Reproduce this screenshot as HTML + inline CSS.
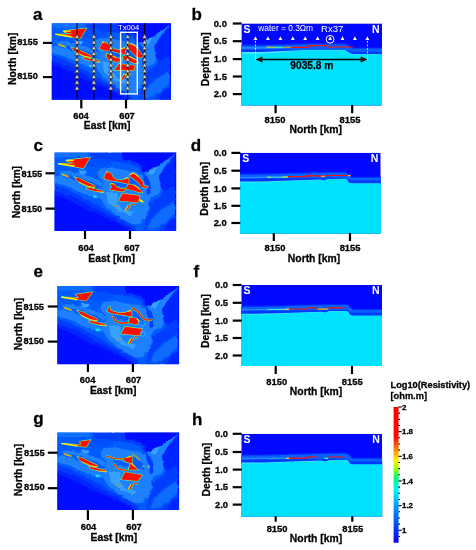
<!DOCTYPE html>
<html><head><meta charset="utf-8"><title>Resistivity inversion figure</title>
<style>html,body{margin:0;padding:0;background:#fff}body{width:476px;height:550px;overflow:hidden}svg{display:block}text{font-family:"Liberation Sans",sans-serif}.k text{stroke:#000;stroke-width:0.28px;paint-order:stroke}.k svg text{stroke:none}</style></head><body>
<svg class="k" width="476" height="550" viewBox="0 0 476 550">
<rect width="476" height="550" fill="#fff"/>
<defs><filter id="bl" x="-5%" y="-5%" width="110%" height="110%"><feGaussianBlur stdDeviation="0.35"/></filter><filter id="jag" x="-3%" y="-3%" width="106%" height="106%"><feTurbulence type="fractalNoise" baseFrequency="0.22" numOctaves="2" seed="7" result="n"/><feDisplacementMap in="SourceGraphic" in2="n" scale="3.2" xChannelSelector="R" yChannelSelector="G"/></filter></defs>
<g>
<svg x="51.7" y="23.3" width="119.3" height="76.5" viewBox="0 0 121.7 78.7" preserveAspectRatio="none" overflow="hidden">
<rect x="0" y="0" width="121.7" height="78.7" fill="#003cff"/><g filter="url(#jag)"><rect x="0" y="0" width="121.7" height="78.7" fill="#003cff"/>
<polygon points="-4.0,-4.0 34.5,-4.0 36.5,5.1 50.5,8.1 63.5,9.1 74.5,11.6 83.0,14.1 86.5,20.6 89.6,20.0 108.0,23.6 109.5,35.6 106.5,43.6 99.5,47.6 94.5,50.6 95.5,57.6 91.5,65.6 88.5,82.7 85.5,82.7 80.0,74.1 72.1,69.6 62.9,64.6 53.8,59.6 43.1,53.1 28.5,45.1 14.0,37.6 -4.0,31.1" fill="#005cff" />
<polygon points="-4.0,-4.0 34.5,-4.0 33.5,4.2 15.5,4.8 -4.0,4.1" fill="#0c70ff" />
<polygon points="36.5,5.1 50.5,7.1 57.5,10.6 49.5,14.6 37.5,15.6 31.5,13.6" fill="#0050ff" />
<polygon points="125.7,43.6 125.7,59.6 107.5,74.6 101.5,82.7 88.5,82.7 93.5,68.6 105.5,56.6" fill="#0050ff" />
<polygon points="125.7,46.1 125.7,57.1 106.5,72.6 97.5,77.6 93.5,75.6 97.5,66.6 108.5,56.6" fill="#0c6cff" />
<polygon points="120.9,0.9 88.9,20.0 86.5,22.6 80.5,19.1 69.5,17.6 57.5,15.1 45.5,16.6 43.5,23.6 49.5,30.6 43.5,37.6 45.5,45.6 49.5,51.6 57.5,59.6 67.5,66.6 77.5,71.6 85.5,71.6 91.5,63.6 94.5,55.6 93.5,49.6 96.5,44.6 104.5,41.6 107.0,34.6 105.5,23.6 111.5,13.6" fill="#1c80ff" />
<polygon points="88.9,20.0 94.5,26.6 96.5,34.6 96.0,40.6 92.5,42.6 92.0,35.6 90.5,30.6 87.5,23.6" fill="#003cff" />
<polygon points="53.5,27.6 69.5,31.1 74.5,25.6 77.5,24.6 85.5,31.6 87.5,37.6 75.5,37.6 71.5,35.6 61.5,33.6" fill="#005cff" />
<polygon points="-4.0,23.1 9.5,24.6 21.5,28.1 33.5,33.6 42.5,39.6 46.5,44.6 42.5,46.6 33.5,43.6 21.5,37.6 9.5,32.6 -4.0,30.2" fill="#1c80ff" />
<polygon points="3.5,17.6 15.5,19.1 29.5,22.1 43.5,27.6 49.5,31.6 45.5,33.6 35.5,28.6 21.5,24.1 7.5,21.1" fill="#1c80ff" />
<polygon points="24.5,18.1 31.5,18.1 32.5,21.1 25.5,21.6" fill="#38a0ff" />
<polygon points="51.5,39.6 63.5,40.6 62.5,51.6 69.5,57.6 81.5,59.6 75.5,62.6 63.5,58.6 53.5,50.6" fill="#38a0ff" />
<polygon points="95.5,15.1 103.5,11.1 101.5,18.6 97.5,22.6 93.5,20.6" fill="#38a0ff" />
<polygon points="67.8,-4.0 67.8,6.1 75.0,8.3 85.2,10.5 88.1,18.5 89.6,20.0 104.1,13.4 120.1,1.8 121.3,-4.0" fill="#0008ff" />
<polygon points="125.7,-4.0 120.7,1.4 111.5,12.6 104.5,23.6 106.0,34.6 108.5,39.6 115.5,35.6 125.7,31.6" fill="#0028ff" />
<polygon points="120.4,-4.0 120.4,82.7 125.7,82.7 125.7,-4.0" fill="#0008ff" />
<polygon points="-4.0,36.6 20.7,45.1 37.1,54.2 49.5,61.1 62.9,68.1 75.5,74.6 82.5,82.7 -4.0,82.7" fill="#0028ff" />
<polygon points="-4.0,41.6 8.1,44.7 20.7,51.0 33.3,57.9 45.9,63.0 55.5,67.4 62.9,70.6 72.1,75.0 79.5,82.7 -4.0,82.7" fill="#0008ff" />
<polygon points="125.7,62.1 113.5,69.6 108.0,82.7 125.7,82.7" fill="#0028ff" />
<polygon points="38.0,42.8 42.0,43.0 42.5,45.0 39.0,45.4" fill="#20d8ff" /></g><g filter="url(#bl)"><g stroke-linejoin="round" stroke-linecap="round"><polygon points="11.9,7.7 35.7,4.9 29.0,16.1 3.4,11.4 20.5,10.8 12.5,9.1" fill="#00d8e0" stroke="#00d8e0" stroke-width="0.90"/><polyline points="7.0,21.8 14.0,24.2" fill="none" stroke="#00d8e0" stroke-width="1.80"/><polygon points="20.0,24.6 25.5,26.1 31.5,29.1 40.5,33.4 40.0,35.1 33.5,34.1 27.5,31.6 22.5,28.1" fill="#00d8e0" stroke="#00d8e0" stroke-width="0.90"/><polygon points="32.0,34.6 47.5,38.1 49.5,40.1 41.5,39.1 32.5,36.6" fill="#00d8e0" stroke="#00d8e0" stroke-width="0.90"/><polygon points="73.8,52.5 76.1,53.0 72.7,58.2 70.9,57.7" fill="#00d8e0" stroke="#00d8e0" stroke-width="0.90"/><polyline points="76.7,51.6 80.2,52.2" fill="none" stroke="#00d8e0" stroke-width="1.70"/><polyline points="60.7,53.2 62.5,53.8" fill="none" stroke="#00d8e0" stroke-width="1.70"/><polygon points="49.1,25.0 52.1,19.0 55.0,19.6 59.2,22.6 62.7,26.2 69.8,27.4 74.5,25.0 75.7,32.1 69.8,30.9 61.5,28.6 53.3,28.0 49.1,26.2" fill="#00d8e0" stroke="#00d8e0" stroke-width="0.90"/><polygon points="77.4,22.0 81.0,21.2 85.1,23.2 89.8,28.6 93.3,33.9 91.0,35.7 86.9,35.1 82.7,30.9 78.0,26.2 76.3,23.8" fill="#00d8e0" stroke="#00d8e0" stroke-width="0.90"/><polygon points="56.2,30.9 61.5,32.7 66.2,35.7 71.5,36.3 71.5,39.3 66.2,39.8 58.0,37.5 55.6,34.5" fill="#00d8e0" stroke="#00d8e0" stroke-width="0.90"/><polygon points="72.7,33.3 80.4,34.5 86.9,38.1 88.6,41.0 83.9,41.0 78.0,38.7 72.7,37.5" fill="#00d8e0" stroke="#00d8e0" stroke-width="0.90"/><polygon points="68.6,41.6 85.1,43.4 83.9,48.8 63.9,48.2" fill="#00d8e0" stroke="#00d8e0" stroke-width="0.90"/></g><g stroke-linejoin="round" stroke-linecap="round"><polygon points="11.9,7.7 35.7,4.9 29.0,16.1 3.4,11.4 20.5,10.8 12.5,9.1" fill="#c8f020" stroke="#c8f020" stroke-width="0.30"/><polyline points="7.0,21.8 14.0,24.2" fill="none" stroke="#c8f020" stroke-width="1.20"/><polygon points="20.0,24.6 25.5,26.1 31.5,29.1 40.5,33.4 40.0,35.1 33.5,34.1 27.5,31.6 22.5,28.1" fill="#c8f020" stroke="#c8f020" stroke-width="0.30"/><polygon points="32.0,34.6 47.5,38.1 49.5,40.1 41.5,39.1 32.5,36.6" fill="#c8f020" stroke="#c8f020" stroke-width="0.30"/><polygon points="73.8,52.5 76.1,53.0 72.7,58.2 70.9,57.7" fill="#c8f020" stroke="#c8f020" stroke-width="0.30"/><polyline points="76.7,51.6 80.2,52.2" fill="none" stroke="#c8f020" stroke-width="1.10"/><polyline points="60.7,53.2 62.5,53.8" fill="none" stroke="#c8f020" stroke-width="1.10"/><polygon points="49.1,25.0 52.1,19.0 55.0,19.6 59.2,22.6 62.7,26.2 69.8,27.4 74.5,25.0 75.7,32.1 69.8,30.9 61.5,28.6 53.3,28.0 49.1,26.2" fill="#c8f020" stroke="#c8f020" stroke-width="0.30"/><polygon points="77.4,22.0 81.0,21.2 85.1,23.2 89.8,28.6 93.3,33.9 91.0,35.7 86.9,35.1 82.7,30.9 78.0,26.2 76.3,23.8" fill="#c8f020" stroke="#c8f020" stroke-width="0.30"/><polygon points="56.2,30.9 61.5,32.7 66.2,35.7 71.5,36.3 71.5,39.3 66.2,39.8 58.0,37.5 55.6,34.5" fill="#c8f020" stroke="#c8f020" stroke-width="0.30"/><polygon points="72.7,33.3 80.4,34.5 86.9,38.1 88.6,41.0 83.9,41.0 78.0,38.7 72.7,37.5" fill="#c8f020" stroke="#c8f020" stroke-width="0.30"/><polygon points="68.6,41.6 85.1,43.4 83.9,48.8 63.9,48.2" fill="#c8f020" stroke="#c8f020" stroke-width="0.30"/></g><g stroke-linejoin="round" stroke-linecap="round"><polygon points="12.1,7.8 12.6,9.0 21.3,10.8 21.2,10.9 4.8,11.5 28.9,15.9 35.4,5.1" fill="#ff0800" stroke="#ff0800" stroke-width="0.01"/><polyline points="7.0,21.8 14.0,24.2" fill="none" stroke="#ff0800" stroke-width="0.90"/><polygon points="20.4,24.9 22.6,28.0 27.6,31.5 33.5,34.0 39.9,34.9 40.3,33.5 31.4,29.2 25.4,26.2" fill="#ff0800" stroke="#ff0800" stroke-width="0.01"/><polygon points="32.2,34.8 32.6,36.5 41.5,39.0 49.1,39.9 47.4,38.2" fill="#ff0800" stroke="#ff0800" stroke-width="0.01"/><polygon points="73.9,52.7 71.1,57.6 72.6,58.0 75.9,53.1" fill="#ff0800" stroke="#ff0800" stroke-width="0.01"/><polyline points="76.7,51.6 80.2,52.2" fill="none" stroke="#ff0800" stroke-width="0.80"/><polyline points="60.7,53.2 62.5,53.8" fill="none" stroke="#ff0800" stroke-width="0.80"/><polygon points="49.2,25.0 49.2,26.1 53.3,27.9 61.5,28.5 69.8,30.8 75.5,31.9 74.4,25.2 69.8,27.6 62.6,26.3 59.1,22.7 54.9,19.7 52.2,19.2" fill="#ff0800" stroke="#ff0800" stroke-width="0.01"/><polygon points="77.5,22.1 76.5,23.8 78.1,26.1 82.8,30.8 87.0,35.0 91.0,35.5 93.1,33.9 89.7,28.7 85.0,23.3 81.0,21.4" fill="#ff0800" stroke="#ff0800" stroke-width="0.01"/><polygon points="56.3,31.1 55.8,34.5 58.1,37.4 66.2,39.6 71.3,39.2 71.3,36.4 66.1,35.8 61.4,32.8" fill="#ff0800" stroke="#ff0800" stroke-width="0.01"/><polygon points="72.9,33.5 72.9,37.4 78.0,38.6 83.9,40.8 88.3,40.8 86.8,38.2 80.4,34.6" fill="#ff0800" stroke="#ff0800" stroke-width="0.01"/><polygon points="68.7,41.8 64.2,48.1 83.8,48.6 84.9,43.5" fill="#ff0800" stroke="#ff0800" stroke-width="0.01"/></g><g stroke-linecap="round" fill="none"><polyline points="4.5,11.3 19.5,13.6" stroke="#fff000" stroke-width="1.5"/><polyline points="12.7,8.3 19.0,8.0" stroke="#fff000" stroke-width="1.2"/><polyline points="24.5,29.8 33.5,33.8 39.5,35.0" stroke="#fff000" stroke-width="0.8"/><polyline points="7.5,22.0 13.0,23.9" stroke="#fff000" stroke-width="0.7"/><polyline points="42.5,39.0 48.5,39.8" stroke="#fff000" stroke-width="0.7"/><polyline points="78.0,21.8 81.0,21.0 85.1,23.0" stroke="#fff000" stroke-width="1.0"/><polyline points="79.5,34.2 85.5,37.2" stroke="#fff000" stroke-width="1.0"/><polyline points="71.0,26.2 74.1,25.2" stroke="#fff000" stroke-width="0.9"/><polyline points="51.8,19.4 53.1,19.8" stroke="#fff000" stroke-width="0.9"/><polyline points="59.5,32.2 65.5,35.2" stroke="#fff000" stroke-width="0.9"/><polyline points="73.0,52.1 79.0,54.1" stroke="#fff000" stroke-width="0.9"/></g></g>
</svg>
<line x1="43" y1="42.9" x2="52.0" y2="42.9" stroke="#000" stroke-width="2.2"/>
<text x="37.800000000000004" y="44.7" font-size="9.25" text-anchor="end" font-weight="bold" fill="#000" >8155</text>
<line x1="43" y1="77.1" x2="52.0" y2="77.1" stroke="#000" stroke-width="2.2"/>
<text x="37.800000000000004" y="78.8" font-size="9.25" text-anchor="end" font-weight="bold" fill="#000" >8150</text>
<line x1="81.3" y1="99.5" x2="81.3" y2="108.4" stroke="#000" stroke-width="2.2"/>
<text x="81" y="118.89999999999999" font-size="9.4" text-anchor="middle" font-weight="bold" fill="#000" >604</text>
<line x1="126" y1="99.5" x2="126" y2="108.4" stroke="#000" stroke-width="2.2"/>
<text x="127" y="118.89999999999999" font-size="9.4" text-anchor="middle" font-weight="bold" fill="#000" >607</text>
<text x="107.1" y="129.29999999999998" font-size="10.35" text-anchor="middle" font-weight="bold" fill="#000" >East [km]</text>
<text transform="translate(15.8,58.8) rotate(-90)" font-size="10.35" text-anchor="middle" font-weight="bold">North [km]</text>
<text x="33" y="19.8" font-size="17" text-anchor="start" font-weight="bold" fill="#000" >a</text>
</g>
<g>
<line x1="77.0" y1="23.3" x2="77.0" y2="99.8" stroke="#000" stroke-width="1.1"/>
<polygon points="74.7,38.40 79.3,38.40 77.0,34.10" fill="#dad4cc" stroke="#202020" stroke-width="0.6" stroke-linejoin="round"/>
<polygon points="74.7,44.12 79.3,44.12 77.0,39.82" fill="#dad4cc" stroke="#202020" stroke-width="0.6" stroke-linejoin="round"/>
<polygon points="74.7,49.84 79.3,49.84 77.0,45.54" fill="#dad4cc" stroke="#202020" stroke-width="0.6" stroke-linejoin="round"/>
<polygon points="74.7,55.56 79.3,55.56 77.0,51.26" fill="#dad4cc" stroke="#202020" stroke-width="0.6" stroke-linejoin="round"/>
<polygon points="74.7,61.28 79.3,61.28 77.0,56.98" fill="#dad4cc" stroke="#202020" stroke-width="0.6" stroke-linejoin="round"/>
<polygon points="74.7,67.00 79.3,67.00 77.0,62.70" fill="#dad4cc" stroke="#202020" stroke-width="0.6" stroke-linejoin="round"/>
<polygon points="74.7,72.72 79.3,72.72 77.0,68.42" fill="#dad4cc" stroke="#202020" stroke-width="0.6" stroke-linejoin="round"/>
<polygon points="74.7,78.44 79.3,78.44 77.0,74.14" fill="#dad4cc" stroke="#202020" stroke-width="0.6" stroke-linejoin="round"/>
<polygon points="74.7,84.16 79.3,84.16 77.0,79.86" fill="#dad4cc" stroke="#202020" stroke-width="0.6" stroke-linejoin="round"/>
<polygon points="74.7,89.88 79.3,89.88 77.0,85.58" fill="#dad4cc" stroke="#202020" stroke-width="0.6" stroke-linejoin="round"/>
<line x1="93.9" y1="23.3" x2="93.9" y2="99.8" stroke="#000" stroke-width="1.1"/>
<polygon points="91.6,38.40 96.2,38.40 93.9,34.10" fill="#dad4cc" stroke="#202020" stroke-width="0.6" stroke-linejoin="round"/>
<polygon points="91.6,44.12 96.2,44.12 93.9,39.82" fill="#dad4cc" stroke="#202020" stroke-width="0.6" stroke-linejoin="round"/>
<polygon points="91.6,49.84 96.2,49.84 93.9,45.54" fill="#dad4cc" stroke="#202020" stroke-width="0.6" stroke-linejoin="round"/>
<polygon points="91.6,55.56 96.2,55.56 93.9,51.26" fill="#dad4cc" stroke="#202020" stroke-width="0.6" stroke-linejoin="round"/>
<polygon points="91.6,61.28 96.2,61.28 93.9,56.98" fill="#dad4cc" stroke="#202020" stroke-width="0.6" stroke-linejoin="round"/>
<polygon points="91.6,67.00 96.2,67.00 93.9,62.70" fill="#dad4cc" stroke="#202020" stroke-width="0.6" stroke-linejoin="round"/>
<polygon points="91.6,72.72 96.2,72.72 93.9,68.42" fill="#dad4cc" stroke="#202020" stroke-width="0.6" stroke-linejoin="round"/>
<polygon points="91.6,78.44 96.2,78.44 93.9,74.14" fill="#dad4cc" stroke="#202020" stroke-width="0.6" stroke-linejoin="round"/>
<polygon points="91.6,84.16 96.2,84.16 93.9,79.86" fill="#dad4cc" stroke="#202020" stroke-width="0.6" stroke-linejoin="round"/>
<polygon points="91.6,89.88 96.2,89.88 93.9,85.58" fill="#dad4cc" stroke="#202020" stroke-width="0.6" stroke-linejoin="round"/>
<line x1="110.8" y1="23.3" x2="110.8" y2="99.8" stroke="#000" stroke-width="1.1"/>
<polygon points="108.5,38.40 113.1,38.40 110.8,34.10" fill="#dad4cc" stroke="#202020" stroke-width="0.6" stroke-linejoin="round"/>
<polygon points="108.5,44.12 113.1,44.12 110.8,39.82" fill="#dad4cc" stroke="#202020" stroke-width="0.6" stroke-linejoin="round"/>
<polygon points="108.5,49.84 113.1,49.84 110.8,45.54" fill="#dad4cc" stroke="#202020" stroke-width="0.6" stroke-linejoin="round"/>
<polygon points="108.5,55.56 113.1,55.56 110.8,51.26" fill="#dad4cc" stroke="#202020" stroke-width="0.6" stroke-linejoin="round"/>
<polygon points="108.5,61.28 113.1,61.28 110.8,56.98" fill="#dad4cc" stroke="#202020" stroke-width="0.6" stroke-linejoin="round"/>
<polygon points="108.5,67.00 113.1,67.00 110.8,62.70" fill="#dad4cc" stroke="#202020" stroke-width="0.6" stroke-linejoin="round"/>
<polygon points="108.5,72.72 113.1,72.72 110.8,68.42" fill="#dad4cc" stroke="#202020" stroke-width="0.6" stroke-linejoin="round"/>
<polygon points="108.5,78.44 113.1,78.44 110.8,74.14" fill="#dad4cc" stroke="#202020" stroke-width="0.6" stroke-linejoin="round"/>
<polygon points="108.5,84.16 113.1,84.16 110.8,79.86" fill="#dad4cc" stroke="#202020" stroke-width="0.6" stroke-linejoin="round"/>
<polygon points="108.5,89.88 113.1,89.88 110.8,85.58" fill="#dad4cc" stroke="#202020" stroke-width="0.6" stroke-linejoin="round"/>
<line x1="127.7" y1="23.3" x2="127.7" y2="99.8" stroke="#000" stroke-width="1.1"/>
<polygon points="125.4,38.40 130.0,38.40 127.7,34.10" fill="#dad4cc" stroke="#202020" stroke-width="0.6" stroke-linejoin="round"/>
<polygon points="125.4,44.12 130.0,44.12 127.7,39.82" fill="#dad4cc" stroke="#202020" stroke-width="0.6" stroke-linejoin="round"/>
<polygon points="125.4,49.84 130.0,49.84 127.7,45.54" fill="#dad4cc" stroke="#202020" stroke-width="0.6" stroke-linejoin="round"/>
<polygon points="125.4,55.56 130.0,55.56 127.7,51.26" fill="#dad4cc" stroke="#202020" stroke-width="0.6" stroke-linejoin="round"/>
<polygon points="125.4,61.28 130.0,61.28 127.7,56.98" fill="#dad4cc" stroke="#202020" stroke-width="0.6" stroke-linejoin="round"/>
<polygon points="125.4,67.00 130.0,67.00 127.7,62.70" fill="#dad4cc" stroke="#202020" stroke-width="0.6" stroke-linejoin="round"/>
<polygon points="125.4,72.72 130.0,72.72 127.7,68.42" fill="#dad4cc" stroke="#202020" stroke-width="0.6" stroke-linejoin="round"/>
<polygon points="125.4,78.44 130.0,78.44 127.7,74.14" fill="#dad4cc" stroke="#202020" stroke-width="0.6" stroke-linejoin="round"/>
<polygon points="125.4,84.16 130.0,84.16 127.7,79.86" fill="#dad4cc" stroke="#202020" stroke-width="0.6" stroke-linejoin="round"/>
<polygon points="125.4,89.88 130.0,89.88 127.7,85.58" fill="#dad4cc" stroke="#202020" stroke-width="0.6" stroke-linejoin="round"/>
<line x1="144.6" y1="23.3" x2="144.6" y2="99.8" stroke="#000" stroke-width="1.1"/>
<polygon points="142.3,38.40 146.9,38.40 144.6,34.10" fill="#dad4cc" stroke="#202020" stroke-width="0.6" stroke-linejoin="round"/>
<polygon points="142.3,44.12 146.9,44.12 144.6,39.82" fill="#dad4cc" stroke="#202020" stroke-width="0.6" stroke-linejoin="round"/>
<polygon points="142.3,49.84 146.9,49.84 144.6,45.54" fill="#dad4cc" stroke="#202020" stroke-width="0.6" stroke-linejoin="round"/>
<polygon points="142.3,55.56 146.9,55.56 144.6,51.26" fill="#dad4cc" stroke="#202020" stroke-width="0.6" stroke-linejoin="round"/>
<polygon points="142.3,61.28 146.9,61.28 144.6,56.98" fill="#dad4cc" stroke="#202020" stroke-width="0.6" stroke-linejoin="round"/>
<polygon points="142.3,67.00 146.9,67.00 144.6,62.70" fill="#dad4cc" stroke="#202020" stroke-width="0.6" stroke-linejoin="round"/>
<polygon points="142.3,72.72 146.9,72.72 144.6,68.42" fill="#dad4cc" stroke="#202020" stroke-width="0.6" stroke-linejoin="round"/>
<polygon points="142.3,78.44 146.9,78.44 144.6,74.14" fill="#dad4cc" stroke="#202020" stroke-width="0.6" stroke-linejoin="round"/>
<polygon points="142.3,84.16 146.9,84.16 144.6,79.86" fill="#dad4cc" stroke="#202020" stroke-width="0.6" stroke-linejoin="round"/>
<polygon points="142.3,89.88 146.9,89.88 144.6,85.58" fill="#dad4cc" stroke="#202020" stroke-width="0.6" stroke-linejoin="round"/>
<rect x="120.6" y="32.3" width="16.7" height="61.6" fill="none" stroke="#fff" stroke-width="1.4"/>
<text x="128.6" y="30" font-size="7.6" fill="#fff" text-anchor="middle" style="stroke:none">Tx004</text>
</g>
<g>
<svg x="54.5" y="152.4" width="121.7" height="78.7" viewBox="0 0 121.7 78.7" preserveAspectRatio="none" overflow="hidden">
<rect x="0" y="0" width="121.7" height="78.7" fill="#003cff"/><g filter="url(#jag)"><rect x="0" y="0" width="121.7" height="78.7" fill="#003cff"/>
<polygon points="-4.0,-4.0 34.5,-4.0 36.5,5.1 50.5,8.1 63.5,9.1 74.5,11.6 83.0,14.1 86.5,20.6 89.6,20.0 108.0,23.6 109.5,35.6 106.5,43.6 99.5,47.6 94.5,50.6 95.5,57.6 91.5,65.6 88.5,82.7 85.5,82.7 80.0,74.1 72.1,69.6 62.9,64.6 53.8,59.6 43.1,53.1 28.5,45.1 14.0,37.6 -4.0,31.1" fill="#005cff" />
<polygon points="-4.0,-4.0 34.5,-4.0 33.5,4.2 15.5,4.8 -4.0,4.1" fill="#0c70ff" />
<polygon points="36.5,5.1 50.5,7.1 57.5,10.6 49.5,14.6 37.5,15.6 31.5,13.6" fill="#0050ff" />
<polygon points="125.7,43.6 125.7,59.6 107.5,74.6 101.5,82.7 88.5,82.7 93.5,68.6 105.5,56.6" fill="#0050ff" />
<polygon points="125.7,46.1 125.7,57.1 106.5,72.6 97.5,77.6 93.5,75.6 97.5,66.6 108.5,56.6" fill="#0c6cff" />
<polygon points="120.9,0.9 88.9,20.0 86.5,22.6 80.5,19.1 69.5,17.6 57.5,15.1 45.5,16.6 43.5,23.6 49.5,30.6 43.5,37.6 45.5,45.6 49.5,51.6 57.5,59.6 67.5,66.6 77.5,71.6 85.5,71.6 91.5,63.6 94.5,55.6 93.5,49.6 96.5,44.6 104.5,41.6 107.0,34.6 105.5,23.6 111.5,13.6" fill="#1c80ff" />
<polygon points="88.9,20.0 94.5,26.6 96.5,34.6 96.0,40.6 92.5,42.6 92.0,35.6 90.5,30.6 87.5,23.6" fill="#003cff" />
<polygon points="53.5,27.6 69.5,31.1 74.5,25.6 77.5,24.6 85.5,31.6 87.5,37.6 75.5,37.6 71.5,35.6 61.5,33.6" fill="#005cff" />
<polygon points="-4.0,23.1 9.5,24.6 21.5,28.1 33.5,33.6 42.5,39.6 46.5,44.6 42.5,46.6 33.5,43.6 21.5,37.6 9.5,32.6 -4.0,30.2" fill="#1c80ff" />
<polygon points="3.5,17.6 15.5,19.1 29.5,22.1 43.5,27.6 49.5,31.6 45.5,33.6 35.5,28.6 21.5,24.1 7.5,21.1" fill="#1c80ff" />
<polygon points="24.5,18.1 31.5,18.1 32.5,21.1 25.5,21.6" fill="#38a0ff" />
<polygon points="51.5,39.6 63.5,40.6 62.5,51.6 69.5,57.6 81.5,59.6 75.5,62.6 63.5,58.6 53.5,50.6" fill="#38a0ff" />
<polygon points="95.5,15.1 103.5,11.1 101.5,18.6 97.5,22.6 93.5,20.6" fill="#38a0ff" />
<polygon points="67.8,-4.0 67.8,6.1 75.0,8.3 85.2,10.5 88.1,18.5 89.6,20.0 104.1,13.4 120.1,1.8 121.3,-4.0" fill="#0008ff" />
<polygon points="125.7,-4.0 120.7,1.4 111.5,12.6 104.5,23.6 106.0,34.6 108.5,39.6 115.5,35.6 125.7,31.6" fill="#0028ff" />
<polygon points="120.4,-4.0 120.4,82.7 125.7,82.7 125.7,-4.0" fill="#0008ff" />
<polygon points="-4.0,36.6 20.7,45.1 37.1,54.2 49.5,61.1 62.9,68.1 75.5,74.6 82.5,82.7 -4.0,82.7" fill="#0028ff" />
<polygon points="-4.0,41.6 8.1,44.7 20.7,51.0 33.3,57.9 45.9,63.0 55.5,67.4 62.9,70.6 72.1,75.0 79.5,82.7 -4.0,82.7" fill="#0008ff" />
<polygon points="125.7,62.1 113.5,69.6 108.0,82.7 125.7,82.7" fill="#0028ff" />
<polygon points="38.0,42.8 42.0,43.0 42.5,45.0 39.0,45.4" fill="#20d8ff" /></g><g filter="url(#bl)"><g stroke-linejoin="round" stroke-linecap="round"><polygon points="11.9,7.7 35.7,4.9 29.0,16.1 3.4,11.4 20.5,10.8 12.5,9.1" fill="#00d8e0" stroke="#00d8e0" stroke-width="0.90"/><polyline points="7.0,21.8 14.0,24.2" fill="none" stroke="#00d8e0" stroke-width="1.80"/><polygon points="20.0,24.6 25.5,26.1 31.5,29.1 40.5,33.4 40.0,35.1 33.5,34.1 27.5,31.6 22.5,28.1" fill="#00d8e0" stroke="#00d8e0" stroke-width="0.90"/><polygon points="32.0,34.6 47.5,38.1 49.5,40.1 41.5,39.1 32.5,36.6" fill="#00d8e0" stroke="#00d8e0" stroke-width="0.90"/><polygon points="73.8,52.5 76.1,53.0 72.7,58.2 70.9,57.7" fill="#00d8e0" stroke="#00d8e0" stroke-width="0.90"/><polyline points="76.7,51.6 80.2,52.2" fill="none" stroke="#00d8e0" stroke-width="1.70"/><polyline points="60.7,53.2 62.5,53.8" fill="none" stroke="#00d8e0" stroke-width="1.70"/><polygon points="49.5,24.7 52.4,19.0 57.1,21.3 58.2,24.2 61.1,27.0 68.6,27.6 73.2,25.3 74.4,26.5 74.4,31.7 68.6,30.5 61.7,28.8 54.7,28.2 50.1,26.5" fill="#00d8e0" stroke="#00d8e0" stroke-width="0.90"/><polygon points="75.0,22.4 79.0,20.7 83.6,24.2 88.2,28.8 89.4,33.4 94.0,34.0 91.7,35.7 87.1,34.6 83.6,29.9 79.0,26.5 75.5,24.2" fill="#00d8e0" stroke="#00d8e0" stroke-width="0.90"/><polygon points="56.5,31.1 59.4,31.1 61.7,34.0 66.3,36.3 70.3,35.7 70.3,38.6 66.3,39.2 59.4,38.0 54.7,37.4 57.1,35.1 55.9,32.2" fill="#00d8e0" stroke="#00d8e0" stroke-width="0.90"/><polygon points="74.4,31.7 80.2,32.8 83.6,35.7 85.9,37.4 88.2,40.3 84.8,40.3 80.2,38.6 75.5,37.4 71.5,36.3 72.7,33.4" fill="#00d8e0" stroke="#00d8e0" stroke-width="0.90"/><polygon points="68.0,40.9 85.4,43.2 83.6,50.2 64.0,48.4" fill="#00d8e0" stroke="#00d8e0" stroke-width="0.90"/></g><g stroke-linejoin="round" stroke-linecap="round"><polygon points="11.9,7.7 35.7,4.9 29.0,16.1 3.4,11.4 20.5,10.8 12.5,9.1" fill="#c8f020" stroke="#c8f020" stroke-width="0.30"/><polyline points="7.0,21.8 14.0,24.2" fill="none" stroke="#c8f020" stroke-width="1.20"/><polygon points="20.0,24.6 25.5,26.1 31.5,29.1 40.5,33.4 40.0,35.1 33.5,34.1 27.5,31.6 22.5,28.1" fill="#c8f020" stroke="#c8f020" stroke-width="0.30"/><polygon points="32.0,34.6 47.5,38.1 49.5,40.1 41.5,39.1 32.5,36.6" fill="#c8f020" stroke="#c8f020" stroke-width="0.30"/><polygon points="73.8,52.5 76.1,53.0 72.7,58.2 70.9,57.7" fill="#c8f020" stroke="#c8f020" stroke-width="0.30"/><polyline points="76.7,51.6 80.2,52.2" fill="none" stroke="#c8f020" stroke-width="1.10"/><polyline points="60.7,53.2 62.5,53.8" fill="none" stroke="#c8f020" stroke-width="1.10"/><polygon points="49.5,24.7 52.4,19.0 57.1,21.3 58.2,24.2 61.1,27.0 68.6,27.6 73.2,25.3 74.4,26.5 74.4,31.7 68.6,30.5 61.7,28.8 54.7,28.2 50.1,26.5" fill="#c8f020" stroke="#c8f020" stroke-width="0.30"/><polygon points="75.0,22.4 79.0,20.7 83.6,24.2 88.2,28.8 89.4,33.4 94.0,34.0 91.7,35.7 87.1,34.6 83.6,29.9 79.0,26.5 75.5,24.2" fill="#c8f020" stroke="#c8f020" stroke-width="0.30"/><polygon points="56.5,31.1 59.4,31.1 61.7,34.0 66.3,36.3 70.3,35.7 70.3,38.6 66.3,39.2 59.4,38.0 54.7,37.4 57.1,35.1 55.9,32.2" fill="#c8f020" stroke="#c8f020" stroke-width="0.30"/><polygon points="74.4,31.7 80.2,32.8 83.6,35.7 85.9,37.4 88.2,40.3 84.8,40.3 80.2,38.6 75.5,37.4 71.5,36.3 72.7,33.4" fill="#c8f020" stroke="#c8f020" stroke-width="0.30"/><polygon points="68.0,40.9 85.4,43.2 83.6,50.2 64.0,48.4" fill="#c8f020" stroke="#c8f020" stroke-width="0.30"/></g><g stroke-linejoin="round" stroke-linecap="round"><polygon points="12.1,7.8 12.6,9.0 21.3,10.8 21.2,10.9 4.8,11.5 28.9,15.9 35.4,5.1" fill="#ff0800" stroke="#ff0800" stroke-width="0.01"/><polyline points="7.0,21.8 14.0,24.2" fill="none" stroke="#ff0800" stroke-width="0.90"/><polygon points="20.4,24.9 22.6,28.0 27.6,31.5 33.5,34.0 39.9,34.9 40.3,33.5 31.4,29.2 25.4,26.2" fill="#ff0800" stroke="#ff0800" stroke-width="0.01"/><polygon points="32.2,34.8 32.6,36.5 41.5,39.0 49.1,39.9 47.4,38.2" fill="#ff0800" stroke="#ff0800" stroke-width="0.01"/><polygon points="73.9,52.7 71.1,57.6 72.6,58.0 75.9,53.1" fill="#ff0800" stroke="#ff0800" stroke-width="0.01"/><polyline points="76.7,51.6 80.2,52.2" fill="none" stroke="#ff0800" stroke-width="0.80"/><polyline points="60.7,53.2 62.5,53.8" fill="none" stroke="#ff0800" stroke-width="0.80"/><polygon points="49.7,24.7 50.2,26.4 54.7,28.1 61.7,28.7 68.6,30.4 74.2,31.5 74.2,26.6 73.2,25.5 68.6,27.8 61.0,27.1 58.1,24.3 57.0,21.4 52.5,19.2" fill="#ff0800" stroke="#ff0800" stroke-width="0.01"/><polygon points="75.2,22.5 75.6,24.1 79.1,26.4 83.7,29.8 87.2,34.5 91.7,35.5 93.6,34.1 89.3,33.5 88.1,28.9 83.5,24.3 79.0,20.9" fill="#ff0800" stroke="#ff0800" stroke-width="0.01"/><polygon points="56.6,31.2 56.1,32.2 57.3,35.1 55.0,37.3 59.4,37.9 66.3,39.0 70.1,38.5 70.1,35.9 66.3,36.5 61.6,34.1 59.3,31.2" fill="#ff0800" stroke="#ff0800" stroke-width="0.01"/><polygon points="74.4,31.9 72.8,33.5 71.7,36.2 75.5,37.3 80.2,38.5 84.8,40.1 87.9,40.1 85.8,37.5 83.5,35.8 80.1,32.9" fill="#ff0800" stroke="#ff0800" stroke-width="0.01"/><polygon points="68.1,41.1 64.2,48.3 83.5,50.0 85.2,43.3" fill="#ff0800" stroke="#ff0800" stroke-width="0.01"/></g><g stroke-linecap="round" fill="none"><polyline points="4.5,11.3 19.5,13.6" stroke="#fff000" stroke-width="1.5"/><polyline points="12.7,8.3 19.0,8.0" stroke="#fff000" stroke-width="1.2"/><polyline points="24.5,29.8 33.5,33.8 39.5,35.0" stroke="#fff000" stroke-width="0.8"/><polyline points="7.5,22.0 13.0,23.9" stroke="#fff000" stroke-width="0.7"/><polyline points="42.5,39.0 48.5,39.8" stroke="#fff000" stroke-width="0.7"/><polyline points="76.0,21.8 79.3,20.6 83.8,24.0" stroke="#fff000" stroke-width="1.0"/><polyline points="79.5,32.9 85.0,35.9" stroke="#fff000" stroke-width="1.0"/><polyline points="70.5,26.0 73.5,25.3" stroke="#fff000" stroke-width="0.9"/><polyline points="52.1,19.3 53.1,19.8" stroke="#fff000" stroke-width="0.9"/><polyline points="57.0,31.2 59.7,31.9" stroke="#fff000" stroke-width="0.8"/><polyline points="85.5,47.5 88.1,49.4" stroke="#fff000" stroke-width="1.9"/><polyline points="71.5,57.1 74.0,53.6" stroke="#fff000" stroke-width="0.8"/></g></g>
</svg>
<line x1="45.5" y1="173.3" x2="54.8" y2="173.3" stroke="#000" stroke-width="2.2"/>
<text x="42.2" y="176.8" font-size="9.25" text-anchor="end" font-weight="bold" fill="#000" >8155</text>
<line x1="45.5" y1="208.6" x2="54.8" y2="208.6" stroke="#000" stroke-width="2.2"/>
<text x="42.2" y="211.79999999999998" font-size="9.25" text-anchor="end" font-weight="bold" fill="#000" >8150</text>
<line x1="85" y1="230.8" x2="85" y2="239" stroke="#000" stroke-width="2.2"/>
<text x="86" y="251.29999999999998" font-size="9.4" text-anchor="middle" font-weight="bold" fill="#000" >604</text>
<line x1="130" y1="230.8" x2="130" y2="239" stroke="#000" stroke-width="2.2"/>
<text x="132" y="251.29999999999998" font-size="9.4" text-anchor="middle" font-weight="bold" fill="#000" >607</text>
<text x="111.6" y="261.8" font-size="10.35" text-anchor="middle" font-weight="bold" fill="#000" >East [km]</text>
<text transform="translate(19.8,192.1) rotate(-90)" font-size="10.35" text-anchor="middle" font-weight="bold">North [km]</text>
<text x="33.5" y="150.6" font-size="17" text-anchor="start" font-weight="bold" fill="#000" >c</text>
</g>
<g>
<svg x="57.3" y="286" width="121.8" height="78.3" viewBox="0 0 121.7 78.7" preserveAspectRatio="none" overflow="hidden">
<rect x="0" y="0" width="121.7" height="78.7" fill="#003cff"/><g filter="url(#jag)"><rect x="0" y="0" width="121.7" height="78.7" fill="#003cff"/>
<polygon points="-4.0,-4.0 34.5,-4.0 36.5,5.1 50.5,8.1 63.5,9.1 74.5,11.6 83.0,14.1 86.5,20.6 89.6,20.0 108.0,23.6 109.5,35.6 106.5,43.6 99.5,47.6 94.5,50.6 95.5,57.6 91.5,65.6 88.5,82.7 85.5,82.7 80.0,74.1 72.1,69.6 62.9,64.6 53.8,59.6 43.1,53.1 28.5,45.1 14.0,37.6 -4.0,31.1" fill="#005cff" />
<polygon points="-4.0,-4.0 34.5,-4.0 33.5,4.2 15.5,4.8 -4.0,4.1" fill="#0c70ff" />
<polygon points="36.5,5.1 50.5,7.1 57.5,10.6 49.5,14.6 37.5,15.6 31.5,13.6" fill="#0050ff" />
<polygon points="125.7,43.6 125.7,59.6 107.5,74.6 101.5,82.7 88.5,82.7 93.5,68.6 105.5,56.6" fill="#0050ff" />
<polygon points="125.7,46.1 125.7,57.1 106.5,72.6 97.5,77.6 93.5,75.6 97.5,66.6 108.5,56.6" fill="#0c6cff" />
<polygon points="120.9,0.9 88.9,20.0 86.5,22.6 80.5,19.1 69.5,17.6 57.5,15.1 45.5,16.6 43.5,23.6 49.5,30.6 43.5,37.6 45.5,45.6 49.5,51.6 57.5,59.6 67.5,66.6 77.5,71.6 85.5,71.6 91.5,63.6 94.5,55.6 93.5,49.6 96.5,44.6 104.5,41.6 107.0,34.6 105.5,23.6 111.5,13.6" fill="#1c80ff" />
<polygon points="88.9,20.0 94.5,26.6 96.5,34.6 96.0,40.6 92.5,42.6 92.0,35.6 90.5,30.6 87.5,23.6" fill="#003cff" />
<polygon points="53.5,27.6 69.5,31.1 74.5,25.6 77.5,24.6 85.5,31.6 87.5,37.6 75.5,37.6 71.5,35.6 61.5,33.6" fill="#005cff" />
<polygon points="-4.0,23.1 9.5,24.6 21.5,28.1 33.5,33.6 42.5,39.6 46.5,44.6 42.5,46.6 33.5,43.6 21.5,37.6 9.5,32.6 -4.0,30.2" fill="#1c80ff" />
<polygon points="3.5,17.6 15.5,19.1 29.5,22.1 43.5,27.6 49.5,31.6 45.5,33.6 35.5,28.6 21.5,24.1 7.5,21.1" fill="#1c80ff" />
<polygon points="24.5,18.1 31.5,18.1 32.5,21.1 25.5,21.6" fill="#38a0ff" />
<polygon points="51.5,39.6 63.5,40.6 62.5,51.6 69.5,57.6 81.5,59.6 75.5,62.6 63.5,58.6 53.5,50.6" fill="#38a0ff" />
<polygon points="95.5,15.1 103.5,11.1 101.5,18.6 97.5,22.6 93.5,20.6" fill="#38a0ff" />
<polygon points="67.8,-4.0 67.8,6.1 75.0,8.3 85.2,10.5 88.1,18.5 89.6,20.0 104.1,13.4 120.1,1.8 121.3,-4.0" fill="#0008ff" />
<polygon points="125.7,-4.0 120.7,1.4 111.5,12.6 104.5,23.6 106.0,34.6 108.5,39.6 115.5,35.6 125.7,31.6" fill="#0028ff" />
<polygon points="120.4,-4.0 120.4,82.7 125.7,82.7 125.7,-4.0" fill="#0008ff" />
<polygon points="-4.0,36.6 20.7,45.1 37.1,54.2 49.5,61.1 62.9,68.1 75.5,74.6 82.5,82.7 -4.0,82.7" fill="#0028ff" />
<polygon points="-4.0,41.6 8.1,44.7 20.7,51.0 33.3,57.9 45.9,63.0 55.5,67.4 62.9,70.6 72.1,75.0 79.5,82.7 -4.0,82.7" fill="#0008ff" />
<polygon points="125.7,62.1 113.5,69.6 108.0,82.7 125.7,82.7" fill="#0028ff" />
<polygon points="38.0,42.8 42.0,43.0 42.5,45.0 39.0,45.4" fill="#20d8ff" /></g><g filter="url(#bl)"><g stroke-linejoin="round" stroke-linecap="round"><polygon points="18.1,8.4 35.4,5.8 29.1,14.9 3.9,11.0 21.5,11.8" fill="#00d8e0" stroke="#00d8e0" stroke-width="0.90"/><polyline points="7.0,21.8 14.0,24.2" fill="none" stroke="#00d8e0" stroke-width="1.80"/><polygon points="20.0,24.6 25.5,26.1 31.5,29.1 40.5,33.4 40.0,35.1 33.5,34.1 27.5,31.6 22.5,28.1" fill="#00d8e0" stroke="#00d8e0" stroke-width="0.90"/><polygon points="32.0,34.6 47.5,38.1 49.5,40.1 41.5,39.1 32.5,36.6" fill="#00d8e0" stroke="#00d8e0" stroke-width="0.90"/><polygon points="73.8,52.5 76.1,53.0 72.7,58.2 70.9,57.7" fill="#00d8e0" stroke="#00d8e0" stroke-width="0.90"/><polyline points="76.7,51.6 80.2,52.2" fill="none" stroke="#00d8e0" stroke-width="1.70"/><polyline points="60.7,53.2 62.5,53.8" fill="none" stroke="#00d8e0" stroke-width="1.70"/><polygon points="49.7,24.3 51.5,21.3 52.4,20.2 53.3,21.1 52.6,24.0 56.1,25.5 60.7,26.6 67.7,26.6 72.9,24.6 74.6,26.3 74.6,30.9 68.8,29.8 60.7,28.6 53.8,27.4 49.7,25.5" fill="#00d8e0" stroke="#00d8e0" stroke-width="0.90"/><polyline points="75.2,22.2 80.4,25.7 85.0,31.5 88.5,34.4 94.2,33.8" fill="none" stroke="#00d8e0" stroke-width="2.20"/><polyline points="55.5,30.9 58.4,35.5 64.2,37.5 70.5,36.7" fill="none" stroke="#00d8e0" stroke-width="2.30"/><polygon points="72.3,31.4 80.1,32.6 81.3,36.4 79.5,38.8 71.3,37.2" fill="#00d8e0" stroke="#00d8e0" stroke-width="0.90"/><polygon points="67.7,40.7 85.0,43.0 82.7,50.0 63.6,48.2" fill="#00d8e0" stroke="#00d8e0" stroke-width="0.90"/></g><g stroke-linejoin="round" stroke-linecap="round"><polygon points="18.1,8.4 35.4,5.8 29.1,14.9 3.9,11.0 21.5,11.8" fill="#c8f020" stroke="#c8f020" stroke-width="0.30"/><polyline points="7.0,21.8 14.0,24.2" fill="none" stroke="#c8f020" stroke-width="1.20"/><polygon points="20.0,24.6 25.5,26.1 31.5,29.1 40.5,33.4 40.0,35.1 33.5,34.1 27.5,31.6 22.5,28.1" fill="#c8f020" stroke="#c8f020" stroke-width="0.30"/><polygon points="32.0,34.6 47.5,38.1 49.5,40.1 41.5,39.1 32.5,36.6" fill="#c8f020" stroke="#c8f020" stroke-width="0.30"/><polygon points="73.8,52.5 76.1,53.0 72.7,58.2 70.9,57.7" fill="#c8f020" stroke="#c8f020" stroke-width="0.30"/><polyline points="76.7,51.6 80.2,52.2" fill="none" stroke="#c8f020" stroke-width="1.10"/><polyline points="60.7,53.2 62.5,53.8" fill="none" stroke="#c8f020" stroke-width="1.10"/><polygon points="49.7,24.3 51.5,21.3 52.4,20.2 53.3,21.1 52.6,24.0 56.1,25.5 60.7,26.6 67.7,26.6 72.9,24.6 74.6,26.3 74.6,30.9 68.8,29.8 60.7,28.6 53.8,27.4 49.7,25.5" fill="#c8f020" stroke="#c8f020" stroke-width="0.30"/><polyline points="75.2,22.2 80.4,25.7 85.0,31.5 88.5,34.4 94.2,33.8" fill="none" stroke="#c8f020" stroke-width="1.60"/><polyline points="55.5,30.9 58.4,35.5 64.2,37.5 70.5,36.7" fill="none" stroke="#c8f020" stroke-width="1.70"/><polygon points="72.3,31.4 80.1,32.6 81.3,36.4 79.5,38.8 71.3,37.2" fill="#c8f020" stroke="#c8f020" stroke-width="0.30"/><polygon points="67.7,40.7 85.0,43.0 82.7,50.0 63.6,48.2" fill="#c8f020" stroke="#c8f020" stroke-width="0.30"/></g><g stroke-linejoin="round" stroke-linecap="round"><polygon points="18.4,8.5 21.9,12.0 6.7,11.3 29.0,14.7 35.1,6.0" fill="#ff0800" stroke="#ff0800" stroke-width="0.01"/><polyline points="7.0,21.8 14.0,24.2" fill="none" stroke="#ff0800" stroke-width="0.90"/><polygon points="20.4,24.9 22.6,28.0 27.6,31.5 33.5,34.0 39.9,34.9 40.3,33.5 31.4,29.2 25.4,26.2" fill="#ff0800" stroke="#ff0800" stroke-width="0.01"/><polygon points="32.2,34.8 32.6,36.5 41.5,39.0 49.1,39.9 47.4,38.2" fill="#ff0800" stroke="#ff0800" stroke-width="0.01"/><polygon points="73.9,52.7 71.1,57.6 72.6,58.0 75.9,53.1" fill="#ff0800" stroke="#ff0800" stroke-width="0.01"/><polyline points="76.7,51.6 80.2,52.2" fill="none" stroke="#ff0800" stroke-width="0.80"/><polyline points="60.7,53.2 62.5,53.8" fill="none" stroke="#ff0800" stroke-width="0.80"/><polygon points="49.9,24.3 49.9,25.4 53.8,27.3 60.7,28.5 68.8,29.7 74.4,30.7 74.4,26.4 72.9,24.8 67.7,26.8 60.7,26.8 56.1,25.6 52.4,24.1 53.1,21.1 52.4,20.4 51.6,21.4" fill="#ff0800" stroke="#ff0800" stroke-width="0.01"/><polyline points="75.2,22.2 80.4,25.7 85.0,31.5 88.5,34.4 94.2,33.8" fill="none" stroke="#ff0800" stroke-width="1.30"/><polyline points="55.5,30.9 58.4,35.5 64.2,37.5 70.5,36.7" fill="none" stroke="#ff0800" stroke-width="1.40"/><polygon points="72.4,31.6 71.5,37.1 79.4,38.6 81.1,36.4 80.0,32.7" fill="#ff0800" stroke="#ff0800" stroke-width="0.01"/><polygon points="67.8,40.9 63.8,48.1 82.6,49.8 84.8,43.1" fill="#ff0800" stroke="#ff0800" stroke-width="0.01"/></g><g stroke-linecap="round" fill="none"><polyline points="4.5,11.3 19.5,13.6" stroke="#fff000" stroke-width="1.5"/><polyline points="24.5,29.8 33.5,33.8 39.5,35.0" stroke="#fff000" stroke-width="0.8"/><polyline points="7.5,22.0 13.0,23.9" stroke="#fff000" stroke-width="0.7"/><polyline points="42.5,39.0 48.5,39.8" stroke="#fff000" stroke-width="0.7"/><polyline points="79.5,33.1 82.0,35.2" stroke="#fff000" stroke-width="1.0"/><polyline points="70.5,25.5 73.3,24.8" stroke="#fff000" stroke-width="0.9"/><polyline points="71.0,57.1 73.5,53.6" stroke="#fff000" stroke-width="0.8"/><ellipse cx="84.4" cy="37.8" rx="3.6" ry="2.4" stroke="#30c8f0" stroke-width="0.6"/><ellipse cx="85.3" cy="48.2" rx="2.8" ry="2.4" stroke="#30c8f0" stroke-width="0.6"/></g></g>
</svg>
<line x1="47.8" y1="306.5" x2="57.599999999999994" y2="306.5" stroke="#000" stroke-width="2.2"/>
<text x="44.0" y="309.59999999999997" font-size="9.25" text-anchor="end" font-weight="bold" fill="#000" >8155</text>
<line x1="47.8" y1="341.6" x2="57.599999999999994" y2="341.6" stroke="#000" stroke-width="2.2"/>
<text x="44.0" y="344.3" font-size="9.25" text-anchor="end" font-weight="bold" fill="#000" >8150</text>
<line x1="87.9" y1="364.0" x2="87.9" y2="372" stroke="#000" stroke-width="2.2"/>
<text x="87.6" y="382.8" font-size="9.4" text-anchor="middle" font-weight="bold" fill="#000" >604</text>
<line x1="132.9" y1="364.0" x2="132.9" y2="372" stroke="#000" stroke-width="2.2"/>
<text x="133.5" y="382.8" font-size="9.4" text-anchor="middle" font-weight="bold" fill="#000" >607</text>
<text x="113.19999999999999" y="394.0" font-size="10.35" text-anchor="middle" font-weight="bold" fill="#000" >East [km]</text>
<text transform="translate(21.8,324) rotate(-90)" font-size="10.35" text-anchor="middle" font-weight="bold">North [km]</text>
<text x="33.5" y="276.5" font-size="17" text-anchor="start" font-weight="bold" fill="#000" >e</text>
</g>
<g>
<svg x="57.3" y="432.4" width="121.8" height="77.6" viewBox="0 0 121.7 78.7" preserveAspectRatio="none" overflow="hidden">
<rect x="0" y="0" width="121.7" height="78.7" fill="#003cff"/><g filter="url(#jag)"><rect x="0" y="0" width="121.7" height="78.7" fill="#003cff"/>
<polygon points="-4.0,-4.0 34.5,-4.0 36.5,5.1 50.5,8.1 63.5,9.1 74.5,11.6 83.0,14.1 86.5,20.6 89.6,20.0 108.0,23.6 109.5,35.6 106.5,43.6 99.5,47.6 94.5,50.6 95.5,57.6 91.5,65.6 88.5,82.7 85.5,82.7 80.0,74.1 72.1,69.6 62.9,64.6 53.8,59.6 43.1,53.1 28.5,45.1 14.0,37.6 -4.0,31.1" fill="#005cff" />
<polygon points="-4.0,-4.0 34.5,-4.0 33.5,4.2 15.5,4.8 -4.0,4.1" fill="#0c70ff" />
<polygon points="36.5,5.1 50.5,7.1 57.5,10.6 49.5,14.6 37.5,15.6 31.5,13.6" fill="#0050ff" />
<polygon points="125.7,43.6 125.7,59.6 107.5,74.6 101.5,82.7 88.5,82.7 93.5,68.6 105.5,56.6" fill="#0050ff" />
<polygon points="125.7,46.1 125.7,57.1 106.5,72.6 97.5,77.6 93.5,75.6 97.5,66.6 108.5,56.6" fill="#0c6cff" />
<polygon points="120.9,0.9 88.9,20.0 86.5,22.6 80.5,19.1 69.5,17.6 57.5,15.1 45.5,16.6 43.5,23.6 49.5,30.6 43.5,37.6 45.5,45.6 49.5,51.6 57.5,59.6 67.5,66.6 77.5,71.6 85.5,71.6 91.5,63.6 94.5,55.6 93.5,49.6 96.5,44.6 104.5,41.6 107.0,34.6 105.5,23.6 111.5,13.6" fill="#1c80ff" />
<polygon points="88.9,20.0 94.5,26.6 96.5,34.6 96.0,40.6 92.5,42.6 92.0,35.6 90.5,30.6 87.5,23.6" fill="#003cff" />
<polygon points="53.5,27.6 69.5,31.1 74.5,25.6 77.5,24.6 85.5,31.6 87.5,37.6 75.5,37.6 71.5,35.6 61.5,33.6" fill="#005cff" />
<polygon points="-4.0,23.1 9.5,24.6 21.5,28.1 33.5,33.6 42.5,39.6 46.5,44.6 42.5,46.6 33.5,43.6 21.5,37.6 9.5,32.6 -4.0,30.2" fill="#1c80ff" />
<polygon points="3.5,17.6 15.5,19.1 29.5,22.1 43.5,27.6 49.5,31.6 45.5,33.6 35.5,28.6 21.5,24.1 7.5,21.1" fill="#1c80ff" />
<polygon points="24.5,18.1 31.5,18.1 32.5,21.1 25.5,21.6" fill="#38a0ff" />
<polygon points="51.5,39.6 63.5,40.6 62.5,51.6 69.5,57.6 81.5,59.6 75.5,62.6 63.5,58.6 53.5,50.6" fill="#38a0ff" />
<polygon points="95.5,15.1 103.5,11.1 101.5,18.6 97.5,22.6 93.5,20.6" fill="#38a0ff" />
<polygon points="67.8,-4.0 67.8,6.1 75.0,8.3 85.2,10.5 88.1,18.5 89.6,20.0 104.1,13.4 120.1,1.8 121.3,-4.0" fill="#0008ff" />
<polygon points="125.7,-4.0 120.7,1.4 111.5,12.6 104.5,23.6 106.0,34.6 108.5,39.6 115.5,35.6 125.7,31.6" fill="#0028ff" />
<polygon points="120.4,-4.0 120.4,82.7 125.7,82.7 125.7,-4.0" fill="#0008ff" />
<polygon points="-4.0,36.6 20.7,45.1 37.1,54.2 49.5,61.1 62.9,68.1 75.5,74.6 82.5,82.7 -4.0,82.7" fill="#0028ff" />
<polygon points="-4.0,41.6 8.1,44.7 20.7,51.0 33.3,57.9 45.9,63.0 55.5,67.4 62.9,70.6 72.1,75.0 79.5,82.7 -4.0,82.7" fill="#0008ff" />
<polygon points="125.7,62.1 113.5,69.6 108.0,82.7 125.7,82.7" fill="#0028ff" />
<polygon points="38.0,42.8 42.0,43.0 42.5,45.0 39.0,45.4" fill="#20d8ff" /></g><g filter="url(#bl)"><g stroke-linejoin="round" stroke-linecap="round"><polygon points="22.5,9.1 33.5,7.4 28.9,15.0 7.5,11.8 23.5,12.4" fill="#00d8e0" stroke="#00d8e0" stroke-width="0.90"/><polyline points="7.0,21.8 14.0,24.2" fill="none" stroke="#00d8e0" stroke-width="1.80"/><polygon points="20.0,24.6 25.5,26.1 31.5,29.1 40.5,33.4 40.0,35.1 33.5,34.1 27.5,31.6 22.5,28.1" fill="#00d8e0" stroke="#00d8e0" stroke-width="0.90"/><polygon points="32.0,34.6 47.5,38.1 49.5,40.1 41.5,39.1 32.5,36.6" fill="#00d8e0" stroke="#00d8e0" stroke-width="0.90"/><polygon points="73.8,52.5 76.1,53.0 72.7,58.2 70.9,57.7" fill="#00d8e0" stroke="#00d8e0" stroke-width="0.90"/><polyline points="76.7,51.6 80.2,52.2" fill="none" stroke="#00d8e0" stroke-width="1.70"/><polyline points="60.7,53.2 62.5,53.8" fill="none" stroke="#00d8e0" stroke-width="1.70"/><polyline points="49.7,24.2 57.3,26.5 67.7,27.0" fill="none" stroke="#00d8e0" stroke-width="2.00"/><polygon points="66.9,26.4 72.9,23.9 74.9,25.2 74.9,31.6 68.5,30.2 66.5,28.0" fill="#00d8e0" stroke="#00d8e0" stroke-width="0.90"/><polyline points="75.2,22.4 78.5,24.6 81.5,27.6" fill="none" stroke="#00d8e0" stroke-width="1.60"/><polyline points="56.1,32.2 60.7,36.9 68.8,38.6" fill="none" stroke="#00d8e0" stroke-width="1.90"/><polygon points="73.1,31.0 80.9,38.0 71.1,38.0" fill="#00d8e0" stroke="#00d8e0" stroke-width="0.90"/><polygon points="67.7,40.3 85.0,43.2 80.4,49.6 63.6,47.8" fill="#00d8e0" stroke="#00d8e0" stroke-width="0.90"/></g><g stroke-linejoin="round" stroke-linecap="round"><polygon points="22.5,9.1 33.5,7.4 28.9,15.0 7.5,11.8 23.5,12.4" fill="#c8f020" stroke="#c8f020" stroke-width="0.30"/><polyline points="7.0,21.8 14.0,24.2" fill="none" stroke="#c8f020" stroke-width="1.20"/><polygon points="20.0,24.6 25.5,26.1 31.5,29.1 40.5,33.4 40.0,35.1 33.5,34.1 27.5,31.6 22.5,28.1" fill="#c8f020" stroke="#c8f020" stroke-width="0.30"/><polygon points="32.0,34.6 47.5,38.1 49.5,40.1 41.5,39.1 32.5,36.6" fill="#c8f020" stroke="#c8f020" stroke-width="0.30"/><polygon points="73.8,52.5 76.1,53.0 72.7,58.2 70.9,57.7" fill="#c8f020" stroke="#c8f020" stroke-width="0.30"/><polyline points="76.7,51.6 80.2,52.2" fill="none" stroke="#c8f020" stroke-width="1.10"/><polyline points="60.7,53.2 62.5,53.8" fill="none" stroke="#c8f020" stroke-width="1.10"/><polyline points="49.7,24.2 57.3,26.5 67.7,27.0" fill="none" stroke="#c8f020" stroke-width="1.40"/><polygon points="66.9,26.4 72.9,23.9 74.9,25.2 74.9,31.6 68.5,30.2 66.5,28.0" fill="#c8f020" stroke="#c8f020" stroke-width="0.30"/><polyline points="75.2,22.4 78.5,24.6 81.5,27.6" fill="none" stroke="#c8f020" stroke-width="1.00"/><polyline points="56.1,32.2 60.7,36.9 68.8,38.6" fill="none" stroke="#c8f020" stroke-width="1.30"/><polygon points="73.1,31.0 80.9,38.0 71.1,38.0" fill="#c8f020" stroke="#c8f020" stroke-width="0.30"/><polygon points="67.7,40.3 85.0,43.2 80.4,49.6 63.6,47.8" fill="#c8f020" stroke="#c8f020" stroke-width="0.30"/></g><g stroke-linejoin="round" stroke-linecap="round"><polygon points="22.7,9.2 23.7,12.6 10.2,12.1 28.8,14.8 33.2,7.6" fill="#ff0800" stroke="#ff0800" stroke-width="0.01"/><polyline points="7.0,21.8 14.0,24.2" fill="none" stroke="#ff0800" stroke-width="0.90"/><polygon points="20.4,24.9 22.6,28.0 27.6,31.5 33.5,34.0 39.9,34.9 40.3,33.5 31.4,29.2 25.4,26.2" fill="#ff0800" stroke="#ff0800" stroke-width="0.01"/><polygon points="32.2,34.8 32.6,36.5 41.5,39.0 49.1,39.9 47.4,38.2" fill="#ff0800" stroke="#ff0800" stroke-width="0.01"/><polygon points="73.9,52.7 71.1,57.6 72.6,58.0 75.9,53.1" fill="#ff0800" stroke="#ff0800" stroke-width="0.01"/><polyline points="76.7,51.6 80.2,52.2" fill="none" stroke="#ff0800" stroke-width="0.80"/><polyline points="60.7,53.2 62.5,53.8" fill="none" stroke="#ff0800" stroke-width="0.80"/><polyline points="49.7,24.2 57.3,26.5 67.7,27.0" fill="none" stroke="#ff0800" stroke-width="1.10"/><polygon points="67.0,26.5 66.7,28.0 68.6,30.1 74.8,31.4 74.8,25.3 72.9,24.1" fill="#ff0800" stroke="#ff0800" stroke-width="0.01"/><polyline points="75.2,22.4 78.5,24.6 81.5,27.6" fill="none" stroke="#ff0800" stroke-width="0.70"/><polyline points="56.1,32.2 60.7,36.9 68.8,38.6" fill="none" stroke="#ff0800" stroke-width="1.00"/><polygon points="73.2,31.3 71.3,37.8 80.5,37.8" fill="#ff0800" stroke="#ff0800" stroke-width="0.01"/><polygon points="67.8,40.5 63.8,47.7 80.3,49.4 84.7,43.3" fill="#ff0800" stroke="#ff0800" stroke-width="0.01"/></g><g stroke-linecap="round" fill="none"><polyline points="4.5,11.3 19.5,13.6" stroke="#fff000" stroke-width="1.5"/><polyline points="24.5,29.8 33.5,33.8 39.5,35.0" stroke="#fff000" stroke-width="0.8"/><polyline points="7.5,22.0 13.0,23.9" stroke="#fff000" stroke-width="0.7"/><polyline points="42.5,39.0 48.5,39.8" stroke="#fff000" stroke-width="0.7"/><polyline points="74.5,32.0 77.5,34.6" stroke="#fff000" stroke-width="1.0"/><polyline points="70.5,25.2 73.3,24.5" stroke="#fff000" stroke-width="0.9"/><polyline points="71.0,57.1 73.5,53.6" stroke="#fff000" stroke-width="0.8"/><polyline points="85.5,34.1 86.7,34.4" stroke="#fff000" stroke-width="0.9"/><polyline points="90.5,34.8 91.5,35.0" stroke="#fff000" stroke-width="0.9"/></g></g>
</svg>
<line x1="47.8" y1="452.7" x2="57.599999999999994" y2="452.7" stroke="#000" stroke-width="2.2"/>
<text x="44.6" y="456.29999999999995" font-size="9.25" text-anchor="end" font-weight="bold" fill="#000" >8155</text>
<line x1="47.8" y1="488.2" x2="57.599999999999994" y2="488.2" stroke="#000" stroke-width="2.2"/>
<text x="44.6" y="490.29999999999995" font-size="9.25" text-anchor="end" font-weight="bold" fill="#000" >8150</text>
<line x1="87.9" y1="509.7" x2="87.9" y2="519.9" stroke="#000" stroke-width="2.2"/>
<text x="88.5" y="530.3000000000001" font-size="9.4" text-anchor="middle" font-weight="bold" fill="#000" >604</text>
<line x1="132.9" y1="509.7" x2="132.9" y2="519.9" stroke="#000" stroke-width="2.2"/>
<text x="134" y="530.3000000000001" font-size="9.4" text-anchor="middle" font-weight="bold" fill="#000" >607</text>
<text x="113.89999999999999" y="540.7" font-size="10.35" text-anchor="middle" font-weight="bold" fill="#000" >East [km]</text>
<text transform="translate(22.0,470) rotate(-90)" font-size="10.35" text-anchor="middle" font-weight="bold">North [km]</text>
<text x="33.2" y="424.2" font-size="17" text-anchor="start" font-weight="bold" fill="#000" >g</text>
</g>
<g>
<svg x="241.4" y="23.4" width="140.6" height="81.8" viewBox="0 0 140.6 81.8" overflow="hidden">
<rect width="140.6" height="81.8" fill="#0008ff"/>
<polygon points="0.0,21.1 14.6,21.1 24.6,21.0 41.6,20.6 58.6,20.0 65.6,19.6 87.6,19.6 103.6,19.8 107.1,21.4 110.6,24.0 141.1,24.0 141.6,82.8 -1,82.8" fill="#0028ff"/>
<polygon points="0.0,22.3 14.6,22.3 24.6,22.2 41.6,21.8 58.6,21.2 65.6,20.8 87.6,20.8 103.6,21.0 107.1,22.6 110.6,25.2 141.1,25.2 141.6,82.8 -1,82.8" fill="#0a60ff"/>
<polyline points="0.0,24.6 41.6,24.2" stroke="#2888ff" stroke-width="1.6" fill="none"/>
<polygon points="0.0,26.1 14.6,26.1 24.6,26.0 41.6,26.2 58.6,26.6 65.6,26.6 87.6,26.5 103.6,26.5 107.1,27.1 110.6,28.4 141.1,28.4 141.6,82.8 -1,82.8" fill="#0038ff"/>
<polygon points="0.0,28.6 14.6,28.6 24.6,28.4 41.6,27.6 58.6,26.8 65.6,26.6 87.6,26.5 103.6,26.5 107.1,28.9 110.6,30.7 141.1,30.7 141.6,82.8 -1,82.8" fill="#48e6ff"/>
<polygon points="0.0,30.6 14.6,30.6 24.6,30.2 41.6,28.9 58.6,27.4 65.6,27.1 87.6,27.0 103.6,27.0 107.1,29.1 110.6,30.8 141.1,30.8 141.6,82.8 -1,82.8" fill="#00e1ff"/>
<polyline points="25,23.6 34,23.8" stroke="#e0e020" stroke-width="1.1" fill="none"/>
<polyline points="34,23.8 42,23.8" stroke="#40ffb0" stroke-width="1.1" fill="none"/>
<polyline points="42,23.8 50,23.9" stroke="#ffa000" stroke-width="1.1" fill="none"/>
<polyline points="50,23.9 66.5,23.9 66.5,22.2 86.4,22.2 86.4,23.6 111.5,23.6" stroke="#ff1000" stroke-width="1.2" fill="none"/>
<text x="2.2" y="9.3" font-size="10.5" font-weight="bold" fill="#fff">S</text>
<text x="138.29999999999998" y="9.3" font-size="10.5" font-weight="bold" fill="#fff" text-anchor="end">N</text>
<text x="16.8" y="7.2" font-size="8.4" fill="#fff">water = 0.3Ωm</text>
<text x="79.6" y="8.8" font-size="9.6" fill="#fff">Rx37</text>
<polygon points="12.2,16.6 16.0,16.6 14.1,12.8" fill="#fffad8"/>
<polygon points="24.6,16.6 28.4,16.6 26.5,12.8" fill="#fffad8"/>
<polygon points="37.1,16.6 40.9,16.6 39.0,12.8" fill="#fffad8"/>
<polygon points="49.5,16.6 53.3,16.6 51.4,12.8" fill="#fffad8"/>
<polygon points="61.9,16.6 65.7,16.6 63.8,12.8" fill="#fffad8"/>
<polygon points="74.3,16.6 78.2,16.6 76.2,12.8" fill="#fffad8"/>
<polygon points="86.8,16.6 90.6,16.6 88.7,12.8" fill="#fffad8"/>
<polygon points="99.2,16.6 103.0,16.6 101.1,12.8" fill="#fffad8"/>
<polygon points="111.6,16.6 115.4,16.6 113.5,12.8" fill="#fffad8"/>
<polygon points="124.1,16.6 127.9,16.6 126.0,12.8" fill="#fffad8"/>
<circle cx="88.7" cy="15.9" r="3.9" fill="none" stroke="#fff" stroke-width="1"/>
<line x1="14.1" y1="17.5" x2="14.1" y2="36" stroke="#fff" stroke-width="0.8" stroke-dasharray="2 1.5"/>
<line x1="126" y1="17.5" x2="126" y2="36" stroke="#fff" stroke-width="0.8" stroke-dasharray="2 1.5"/>
<line x1="18" y1="36.1" x2="122" y2="36.1" stroke="#000" stroke-width="1.5"/>
<polygon points="14.3,36.1 21,33 21,39.2" fill="#000"/>
<polygon points="126,36.1 119.3,33 119.3,39.2" fill="#000"/>
<text x="70.5" y="46" font-size="10.2" font-weight="bold" text-anchor="middle" style="stroke:#000;stroke-width:0.25px">9035.8 m</text>
</svg>
<line x1="232.8" y1="23.5" x2="241.70000000000002" y2="23.5" stroke="#000" stroke-width="2.2"/>
<text x="226.9" y="26.7" font-size="9.4" text-anchor="end" font-weight="bold" fill="#000" >0.0</text>
<line x1="232.8" y1="41.2" x2="241.70000000000002" y2="41.2" stroke="#000" stroke-width="2.2"/>
<text x="226.9" y="44.400000000000006" font-size="9.4" text-anchor="end" font-weight="bold" fill="#000" >0.5</text>
<line x1="232.8" y1="59.1" x2="241.70000000000002" y2="59.1" stroke="#000" stroke-width="2.2"/>
<text x="226.9" y="62.300000000000004" font-size="9.4" text-anchor="end" font-weight="bold" fill="#000" >1.0</text>
<line x1="232.8" y1="76.5" x2="241.70000000000002" y2="76.5" stroke="#000" stroke-width="2.2"/>
<text x="226.9" y="79.7" font-size="9.4" text-anchor="end" font-weight="bold" fill="#000" >1.5</text>
<line x1="232.8" y1="94.1" x2="241.70000000000002" y2="94.1" stroke="#000" stroke-width="2.2"/>
<text x="226.9" y="97.3" font-size="9.4" text-anchor="end" font-weight="bold" fill="#000" >2.0</text>
<line x1="275.6" y1="104.89999999999999" x2="275.6" y2="113.2" stroke="#000" stroke-width="2.2"/>
<text x="275" y="122.8" font-size="9.4" text-anchor="middle" font-weight="bold" fill="#000" >8150</text>
<line x1="352.2" y1="104.89999999999999" x2="352.2" y2="113.2" stroke="#000" stroke-width="2.2"/>
<text x="350" y="122.8" font-size="9.4" text-anchor="middle" font-weight="bold" fill="#000" >8155</text>
<text x="315.7" y="133.1" font-size="10.35" text-anchor="middle" font-weight="bold" fill="#000" >North [km]</text>
<text transform="translate(208.5,59.3) rotate(-90)" font-size="10.3" text-anchor="middle" font-weight="bold">Depth [km]</text>
<text x="191.5" y="20" font-size="17" text-anchor="start" font-weight="bold" fill="#000" >b</text>
</g>
<g>
<svg x="240" y="152.8" width="140.7" height="80.6" viewBox="0 0 140.7 80.6" overflow="hidden">
<rect width="140.7" height="80.6" fill="#0008ff"/>
<polygon points="0.0,20.6 15.0,20.6 22.0,20.5 35.0,20.2 50.0,19.8 65.0,19.4 80.0,19.0 84.0,19.0 88.0,18.8 105.0,18.8 107.0,19.5 109.0,22.0 112.0,23.8 142.0,23.8 141.7,81.6 -1,81.6" fill="#0028ff"/>
<polygon points="0.0,21.8 15.0,21.8 22.0,21.7 35.0,21.4 50.0,21.0 65.0,20.6 80.0,20.2 84.0,20.2 88.0,20.0 105.0,20.0 107.0,20.7 109.0,23.2 112.0,25.0 142.0,25.0 141.7,81.6 -1,81.6" fill="#0a60ff"/>
<polyline points="0.0,25.0 47.0,24.4" stroke="#2888ff" stroke-width="1.6" fill="none"/>
<polygon points="0.0,25.7 15.0,25.6 22.0,25.5 35.0,25.4 50.0,25.4 65.0,25.2 80.0,25.0 84.0,25.2 88.0,24.7 105.0,24.7 107.0,25.7 109.0,27.2 112.0,27.8 142.0,27.8 141.7,81.6 -1,81.6" fill="#0038ff"/>
<polygon points="0.0,28.8 15.0,28.8 22.0,28.6 35.0,28.2 50.0,27.7 65.0,27.2 80.0,26.8 84.0,27.6 88.0,26.1 105.0,25.9 107.0,27.0 109.0,30.2 112.0,30.7 142.0,30.7 141.7,81.6 -1,81.6" fill="#48e6ff"/>
<polygon points="0.0,29.8 15.0,29.8 22.0,29.5 35.0,28.9 50.0,28.3 65.0,27.7 80.0,27.2 84.0,28.0 88.0,26.4 105.0,26.2 107.0,27.2 109.0,30.2 112.0,30.7 142.0,30.7 141.7,81.6 -1,81.6" fill="#00e1ff"/>
<polyline points="26,24.4 40,24.4 48,24.2" stroke="#40e8c8" stroke-width="0.8" fill="none"/>
<polyline points="28,24.4 31,24.4" stroke="#d0f040" stroke-width="0.8" fill="none"/><polyline points="42,24.3 48,24.2" stroke="#e0e820" stroke-width="0.9" fill="none"/>
<polyline points="48,23.8 66.4,23.7 66.4,22.8 84,23.4" stroke="#ff1000" stroke-width="1.2" fill="none"/>
<polyline points="81,23.5 85,23.5" stroke="#ffa000" stroke-width="1.2" fill="none"/>
<polyline points="86,22.7 108,22.7" stroke="#ff1000" stroke-width="1.2" fill="none"/>
<polyline points="108,22.8 110.5,22.8" stroke="#ffe000" stroke-width="1.4" fill="none"/>
<text x="2.2" y="9.3" font-size="10.5" font-weight="bold" fill="#fff">S</text>
<text x="138.39999999999998" y="9.3" font-size="10.5" font-weight="bold" fill="#fff" text-anchor="end">N</text>
</svg>
<line x1="231.4" y1="152.9" x2="240.3" y2="152.9" stroke="#000" stroke-width="2.2"/>
<text x="226.7" y="156.1" font-size="9.4" text-anchor="end" font-weight="bold" fill="#000" >0.0</text>
<line x1="231.4" y1="170.7" x2="240.3" y2="170.7" stroke="#000" stroke-width="2.2"/>
<text x="226.7" y="173.89999999999998" font-size="9.4" text-anchor="end" font-weight="bold" fill="#000" >0.5</text>
<line x1="231.4" y1="188.4" x2="240.3" y2="188.4" stroke="#000" stroke-width="2.2"/>
<text x="226.7" y="191.6" font-size="9.4" text-anchor="end" font-weight="bold" fill="#000" >1.0</text>
<line x1="231.4" y1="205.8" x2="240.3" y2="205.8" stroke="#000" stroke-width="2.2"/>
<text x="226.7" y="209.0" font-size="9.4" text-anchor="end" font-weight="bold" fill="#000" >1.5</text>
<line x1="231.4" y1="223" x2="240.3" y2="223" stroke="#000" stroke-width="2.2"/>
<text x="226.7" y="226.2" font-size="9.4" text-anchor="end" font-weight="bold" fill="#000" >2.0</text>
<line x1="273.8" y1="233.1" x2="273.8" y2="241" stroke="#000" stroke-width="2.2"/>
<text x="275" y="250.79999999999998" font-size="9.4" text-anchor="middle" font-weight="bold" fill="#000" >8150</text>
<line x1="350" y1="233.1" x2="350" y2="241" stroke="#000" stroke-width="2.2"/>
<text x="350.1" y="250.79999999999998" font-size="9.4" text-anchor="middle" font-weight="bold" fill="#000" >8155</text>
<text x="314" y="261.6" font-size="10.35" text-anchor="middle" font-weight="bold" fill="#000" >North [km]</text>
<text transform="translate(208,188.8) rotate(-90)" font-size="10.3" text-anchor="middle" font-weight="bold">Depth [km]</text>
<text x="190.8" y="150.8" font-size="17" text-anchor="start" font-weight="bold" fill="#000" >d</text>
</g>
<g>
<svg x="241.3" y="285" width="140.7" height="81.1" viewBox="0 0 140.7 81.1" overflow="hidden">
<rect width="140.7" height="81.1" fill="#0008ff"/>
<polygon points="0.0,20.6 15.0,20.6 22.0,20.5 35.0,20.2 50.0,19.8 65.0,19.4 80.0,19.0 84.0,19.0 88.0,18.8 105.0,18.8 107.0,19.5 109.0,22.0 112.0,23.8 142.0,23.8 141.7,82.1 -1,82.1" fill="#0028ff"/>
<polygon points="0.0,21.8 15.0,21.8 22.0,21.7 35.0,21.4 50.0,21.0 65.0,20.6 80.0,20.2 84.0,20.2 88.0,20.0 105.0,20.0 107.0,20.7 109.0,23.2 112.0,25.0 142.0,25.0 141.7,82.1 -1,82.1" fill="#0a60ff"/>
<polyline points="0.0,25.0 47.0,24.4" stroke="#2888ff" stroke-width="1.6" fill="none"/>
<polygon points="0.0,25.7 15.0,25.6 22.0,25.5 35.0,25.4 50.0,25.4 65.0,25.2 80.0,25.0 84.0,25.2 88.0,24.7 105.0,24.7 107.0,25.7 109.0,27.2 112.0,27.8 142.0,27.8 141.7,82.1 -1,82.1" fill="#0038ff"/>
<polygon points="0.0,28.8 15.0,28.8 22.0,28.6 35.0,28.2 50.0,27.7 65.0,27.2 80.0,26.8 84.0,27.6 88.0,26.1 105.0,25.9 107.0,27.0 109.0,30.2 112.0,30.7 142.0,30.7 141.7,82.1 -1,82.1" fill="#48e6ff"/>
<polygon points="0.0,29.8 15.0,29.8 22.0,29.5 35.0,28.9 50.0,28.3 65.0,27.7 80.0,27.2 84.0,28.0 88.0,26.4 105.0,26.2 107.0,27.2 109.0,30.2 112.0,30.7 142.0,30.7 141.7,82.1 -1,82.1" fill="#00e1ff"/>
<polyline points="26,24.4 44,24.4" stroke="#40f0ff" stroke-width="1.0" fill="none"/>
<polyline points="44,24.3 48,24.2" stroke="#ffe000" stroke-width="1.2" fill="none"/>
<polyline points="48,24 66,24 66,23 76.5,22.9" stroke="#ff1000" stroke-width="1.2" fill="none"/>
<polyline points="76.5,24.1 87,24.2" stroke="#ffb000" stroke-width="1.2" fill="none"/>
<polyline points="87,22.9 103,22.9" stroke="#ff1000" stroke-width="1.2" fill="none"/>
<text x="2.2" y="9.3" font-size="10.5" font-weight="bold" fill="#fff">S</text>
<text x="138.39999999999998" y="9.3" font-size="10.5" font-weight="bold" fill="#fff" text-anchor="end">N</text>
</svg>
<line x1="232.70000000000002" y1="285" x2="241.60000000000002" y2="285" stroke="#000" stroke-width="2.2"/>
<text x="228.0" y="288.2" font-size="9.4" text-anchor="end" font-weight="bold" fill="#000" >0.0</text>
<line x1="232.70000000000002" y1="302.8" x2="241.60000000000002" y2="302.8" stroke="#000" stroke-width="2.2"/>
<text x="228.0" y="306.0" font-size="9.4" text-anchor="end" font-weight="bold" fill="#000" >0.5</text>
<line x1="232.70000000000002" y1="320.6" x2="241.60000000000002" y2="320.6" stroke="#000" stroke-width="2.2"/>
<text x="228.0" y="323.8" font-size="9.4" text-anchor="end" font-weight="bold" fill="#000" >1.0</text>
<line x1="232.70000000000002" y1="338" x2="241.60000000000002" y2="338" stroke="#000" stroke-width="2.2"/>
<text x="228.0" y="341.2" font-size="9.4" text-anchor="end" font-weight="bold" fill="#000" >1.5</text>
<line x1="232.70000000000002" y1="355.5" x2="241.60000000000002" y2="355.5" stroke="#000" stroke-width="2.2"/>
<text x="228.0" y="358.7" font-size="9.4" text-anchor="end" font-weight="bold" fill="#000" >2.0</text>
<line x1="275.7" y1="365.8" x2="275.7" y2="374" stroke="#000" stroke-width="2.2"/>
<text x="276.8" y="384.5" font-size="9.4" text-anchor="middle" font-weight="bold" fill="#000" >8150</text>
<line x1="352" y1="365.8" x2="352" y2="374" stroke="#000" stroke-width="2.2"/>
<text x="352.3" y="384.5" font-size="9.4" text-anchor="middle" font-weight="bold" fill="#000" >8155</text>
<text x="316" y="394.6" font-size="10.35" text-anchor="middle" font-weight="bold" fill="#000" >North [km]</text>
<text transform="translate(209.2,321) rotate(-90)" font-size="10.3" text-anchor="middle" font-weight="bold">Depth [km]</text>
<text x="193.5" y="277" font-size="17" text-anchor="start" font-weight="bold" fill="#000" >f</text>
</g>
<g>
<svg x="241.3" y="433.8" width="140.8" height="82.7" viewBox="0 0 140.8 82.7" overflow="hidden">
<rect width="140.8" height="82.7" fill="#0008ff"/>
<polygon points="0.0,20.6 15.0,20.6 22.0,20.5 35.0,20.2 50.0,19.8 65.0,19.4 80.0,19.0 84.0,19.0 88.0,18.8 105.0,18.8 107.0,19.5 109.0,22.0 112.0,23.8 142.0,23.8 141.8,83.7 -1,83.7" fill="#0028ff"/>
<polygon points="0.0,21.8 15.0,21.8 22.0,21.7 35.0,21.4 50.0,21.0 65.0,20.6 80.0,20.2 84.0,20.2 88.0,20.0 105.0,20.0 107.0,20.7 109.0,23.2 112.0,25.0 142.0,25.0 141.8,83.7 -1,83.7" fill="#0a60ff"/>
<polyline points="0.0,25.0 47.0,24.4" stroke="#2888ff" stroke-width="1.6" fill="none"/>
<polygon points="0.0,25.7 15.0,25.6 22.0,25.5 35.0,25.4 50.0,25.4 65.0,25.2 80.0,25.0 84.0,25.2 88.0,24.7 105.0,24.7 107.0,25.7 109.0,27.2 112.0,27.8 142.0,27.8 141.8,83.7 -1,83.7" fill="#0038ff"/>
<polygon points="0.0,28.8 15.0,28.8 22.0,28.6 35.0,28.2 50.0,27.7 65.0,27.2 80.0,26.8 84.0,27.6 88.0,26.1 105.0,25.9 107.0,27.0 109.0,30.2 112.0,30.7 142.0,30.7 141.8,83.7 -1,83.7" fill="#48e6ff"/>
<polygon points="0.0,29.8 15.0,29.8 22.0,29.5 35.0,28.9 50.0,28.3 65.0,27.7 80.0,27.2 84.0,28.0 88.0,26.4 105.0,26.2 107.0,27.2 109.0,30.2 112.0,30.7 142.0,30.7 141.8,83.7 -1,83.7" fill="#00e1ff"/>
<polyline points="26,25 44,24.8" stroke="#2098ff" stroke-width="1.0" fill="none"/>
<polyline points="45,24.5 48,24.5" stroke="#ffd000" stroke-width="1.2" fill="none"/>
<polyline points="48,24.4 66,24.4 66,23 76.5,23.2" stroke="#ff1000" stroke-width="1.2" fill="none"/>
<polyline points="83,24.6 87,24.6" stroke="#40ffb0" stroke-width="1.2" fill="none"/>
<polyline points="87,23.2 103,23.2" stroke="#ff1000" stroke-width="1.2" fill="none"/>
<text x="2.2" y="9.3" font-size="10.5" font-weight="bold" fill="#fff">S</text>
<text x="138.5" y="9.3" font-size="10.5" font-weight="bold" fill="#fff" text-anchor="end">N</text>
</svg>
<line x1="232.70000000000002" y1="433.8" x2="241.60000000000002" y2="433.8" stroke="#000" stroke-width="2.2"/>
<text x="228.0" y="437.0" font-size="9.4" text-anchor="end" font-weight="bold" fill="#000" >0.0</text>
<line x1="232.70000000000002" y1="452" x2="241.60000000000002" y2="452" stroke="#000" stroke-width="2.2"/>
<text x="228.0" y="455.2" font-size="9.4" text-anchor="end" font-weight="bold" fill="#000" >0.5</text>
<line x1="232.70000000000002" y1="469.6" x2="241.60000000000002" y2="469.6" stroke="#000" stroke-width="2.2"/>
<text x="228.0" y="472.8" font-size="9.4" text-anchor="end" font-weight="bold" fill="#000" >1.0</text>
<line x1="232.70000000000002" y1="487.2" x2="241.60000000000002" y2="487.2" stroke="#000" stroke-width="2.2"/>
<text x="228.0" y="490.4" font-size="9.4" text-anchor="end" font-weight="bold" fill="#000" >1.5</text>
<line x1="232.70000000000002" y1="504.6" x2="241.60000000000002" y2="504.6" stroke="#000" stroke-width="2.2"/>
<text x="228.0" y="507.8" font-size="9.4" text-anchor="end" font-weight="bold" fill="#000" >2.0</text>
<line x1="275.7" y1="516.2" x2="275.7" y2="521.7" stroke="#000" stroke-width="2.2"/>
<text x="277.1" y="532.0" font-size="9.4" text-anchor="middle" font-weight="bold" fill="#000" >8150</text>
<line x1="352.3" y1="516.2" x2="352.3" y2="521.7" stroke="#000" stroke-width="2.2"/>
<text x="352.8" y="532.0" font-size="9.4" text-anchor="middle" font-weight="bold" fill="#000" >8155</text>
<text x="316" y="541.9" font-size="10.35" text-anchor="middle" font-weight="bold" fill="#000" >North [km]</text>
<text transform="translate(209.9,469.6) rotate(-90)" font-size="10.3" text-anchor="middle" font-weight="bold">Depth [km]</text>
<text x="192" y="425" font-size="17" text-anchor="start" font-weight="bold" fill="#000" >h</text>
</g>
<defs><linearGradient id="cb" x1="0" y1="0" x2="0" y2="1"><stop offset="0" stop-color="#ff0000"/><stop offset="0.22" stop-color="#ff0800"/><stop offset="0.30" stop-color="#ff7000"/><stop offset="0.39" stop-color="#ffee00"/><stop offset="0.45" stop-color="#a0ff00"/><stop offset="0.515" stop-color="#00ff70"/><stop offset="0.615" stop-color="#00f0ff"/><stop offset="0.735" stop-color="#0098ff"/><stop offset="1" stop-color="#0000ff"/></linearGradient></defs>
<rect x="393.6" y="407" width="5" height="135.7" fill="url(#cb)"/>
<line x1="398.4" y1="407.00" x2="401.8" y2="407.00" stroke="#000" stroke-width="1.1"/>
<line x1="398.4" y1="413.17" x2="400" y2="413.17" stroke="#000" stroke-width="1.1"/>
<line x1="398.4" y1="419.33" x2="400" y2="419.33" stroke="#000" stroke-width="1.1"/>
<line x1="398.4" y1="425.50" x2="400" y2="425.50" stroke="#000" stroke-width="1.1"/>
<line x1="398.4" y1="431.66" x2="401.8" y2="431.66" stroke="#000" stroke-width="1.1"/>
<line x1="398.4" y1="437.82" x2="400" y2="437.82" stroke="#000" stroke-width="1.1"/>
<line x1="398.4" y1="443.99" x2="400" y2="443.99" stroke="#000" stroke-width="1.1"/>
<line x1="398.4" y1="450.15" x2="400" y2="450.15" stroke="#000" stroke-width="1.1"/>
<line x1="398.4" y1="456.32" x2="401.8" y2="456.32" stroke="#000" stroke-width="1.1"/>
<line x1="398.4" y1="462.49" x2="400" y2="462.49" stroke="#000" stroke-width="1.1"/>
<line x1="398.4" y1="468.65" x2="400" y2="468.65" stroke="#000" stroke-width="1.1"/>
<line x1="398.4" y1="474.81" x2="400" y2="474.81" stroke="#000" stroke-width="1.1"/>
<line x1="398.4" y1="480.98" x2="401.8" y2="480.98" stroke="#000" stroke-width="1.1"/>
<line x1="398.4" y1="487.14" x2="400" y2="487.14" stroke="#000" stroke-width="1.1"/>
<line x1="398.4" y1="493.31" x2="400" y2="493.31" stroke="#000" stroke-width="1.1"/>
<line x1="398.4" y1="499.48" x2="400" y2="499.48" stroke="#000" stroke-width="1.1"/>
<line x1="398.4" y1="505.64" x2="401.8" y2="505.64" stroke="#000" stroke-width="1.1"/>
<line x1="398.4" y1="511.81" x2="400" y2="511.81" stroke="#000" stroke-width="1.1"/>
<line x1="398.4" y1="517.97" x2="400" y2="517.97" stroke="#000" stroke-width="1.1"/>
<line x1="398.4" y1="524.13" x2="400" y2="524.13" stroke="#000" stroke-width="1.1"/>
<line x1="398.4" y1="530.30" x2="401.8" y2="530.30" stroke="#000" stroke-width="1.1"/>
<line x1="398.4" y1="536.47" x2="400" y2="536.47" stroke="#000" stroke-width="1.1"/>
<text x="402" y="409.70" font-size="7.9" font-weight="bold">2</text>
<text x="402" y="434.36" font-size="7.9" font-weight="bold">1.8</text>
<text x="402" y="459.02" font-size="7.9" font-weight="bold">1.6</text>
<text x="402" y="483.68" font-size="7.9" font-weight="bold">1.4</text>
<text x="402" y="508.34" font-size="7.9" font-weight="bold">1.2</text>
<text x="402" y="533.00" font-size="7.9" font-weight="bold">1</text>
<text x="390.5" y="388.2" font-size="9.25" font-weight="bold">Log10(Resistivity)</text>
<text x="390.5" y="399.2" font-size="9.25" font-weight="bold">[ohm.m]</text>
</svg></body></html>
